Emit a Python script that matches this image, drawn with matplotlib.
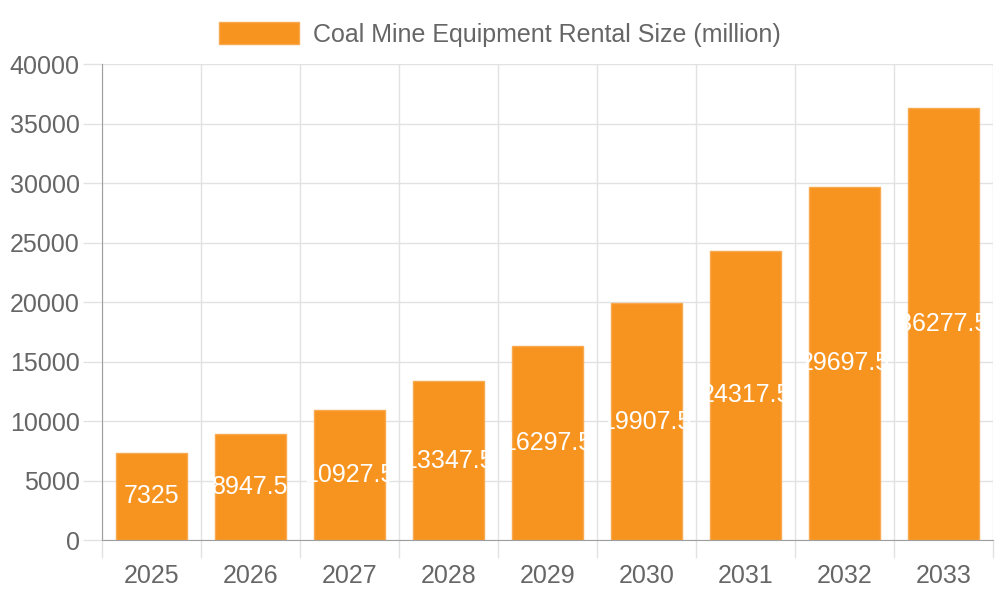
import matplotlib.pyplot as plt
import numpy as np
from matplotlib.ticker import FixedLocator

plt.rcParams['font.family'] = ['Liberation Sans', 'DejaVu Sans']

years = ['2025', '2026', '2027', '2028', '2029', '2030', '2031', '2032', '2033']
rental_size = [7325, 8947.5, 10927.5, 13347.5, 16297.5, 19907.5, 24317.5, 29697.5, 36277.5]
y_ticks = [0, 5000, 10000, 15000, 20000, 25000, 30000, 35000, 40000]

bar_color = '#F7931F'
text_grey = '#666666'
grid_grey = '#e2e2e2'
axis_grey = '#9e9e9e'

fig = plt.figure(figsize=(10, 6), dpi=100)
ax = fig.add_axes([0.102, 0.1, 0.891, 0.7933])

x = np.arange(len(years))
bars = ax.bar(x, rental_size, width=0.72, color=bar_color, edgecolor='#f9a94f',
              linewidth=1, label='Coal Mine Equipment Rental Size (million)', zorder=3)

# value labels in the middle of each bar
for xi, v in zip(x, rental_size):
    ax.text(xi, v / 2, f'{v:g}', ha='center', va='center', color='white',
            fontsize=18, zorder=4)

ax.set_xlim(-0.5, len(years) - 0.5)
ax.set_ylim(0, 40000)

ax.set_xticks(x)
ax.set_xticklabels(years)
ax.xaxis.set_minor_locator(FixedLocator(np.arange(-0.5, len(years), 1.0)))
ax.set_yticks(y_ticks)

ax.tick_params(axis='x', which='major', length=0, pad=17, labelsize=18, labelcolor=text_grey)
ax.tick_params(axis='x', which='minor', length=13, width=1, color=grid_grey)
ax.tick_params(axis='y', length=14, width=1, color=grid_grey, pad=2,
               labelsize=18, labelcolor=text_grey)

ax.grid(True, axis='y', color=grid_grey, linewidth=1, zorder=0)
ax.grid(True, axis='x', which='minor', color=grid_grey, linewidth=1, zorder=0)
ax.grid(False, axis='x', which='major')

for side in ['top', 'right']:
    ax.spines[side].set_visible(False)
ax.spines['left'].set_color(axis_grey)
ax.spines['bottom'].set_color(axis_grey)
ax.spines['left'].set_zorder(5)
ax.spines['bottom'].set_zorder(5)

fig.legend(handles=[bars], loc='upper center', bbox_to_anchor=(0.5, 1.0),
           frameon=False, fontsize=18, handlelength=3.2, handleheight=0.92,
           handletextpad=0.56, labelcolor=text_grey)

fig.savefig('out.png', dpi=100)
